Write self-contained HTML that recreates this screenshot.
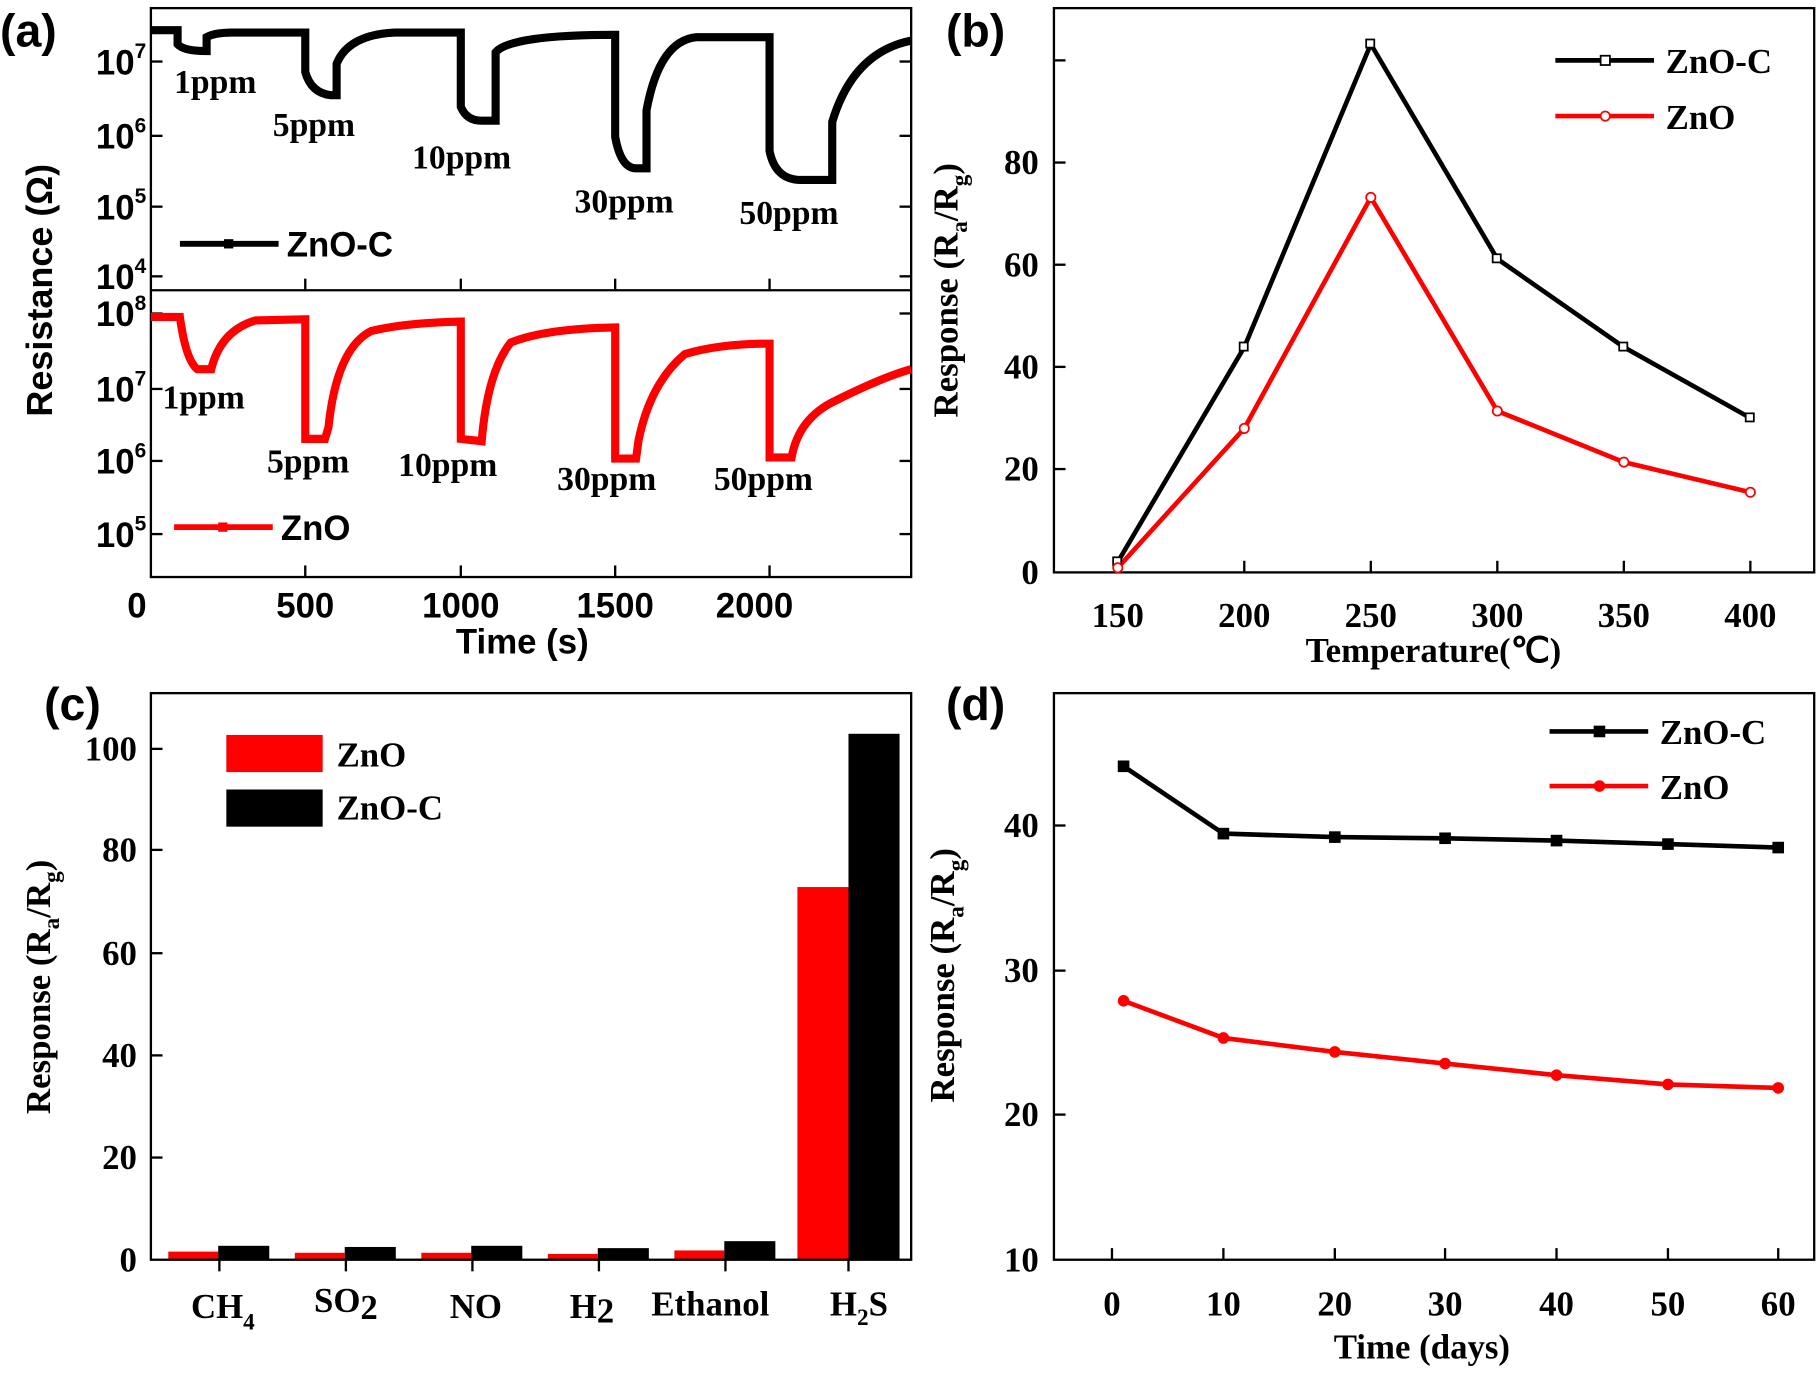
<!DOCTYPE html>
<html><head><meta charset="utf-8"><style>
html,body{margin:0;padding:0;background:#fff}
svg{display:block}
.s{font-family:"Liberation Sans",sans-serif;font-weight:bold}
.r{font-family:"Liberation Serif",serif;font-weight:bold}
</style></head><body>
<svg width="1820" height="1377" viewBox="0 0 1568 1186" preserveAspectRatio="none" xmlns="http://www.w3.org/2000/svg">
<!-- Panel a -->
<g fill="none" stroke="#000" stroke-width="2">
<rect x="130" y="7" width="655" height="490"/>
<line x1="130" y1="250" x2="785" y2="250"/>
</g>
<g stroke="#000" stroke-width="2">
<line x1="263" y1="497" x2="263" y2="487"/><line x1="397" y1="497" x2="397" y2="487"/><line x1="530" y1="497" x2="530" y2="487"/><line x1="663" y1="497" x2="663" y2="487"/>
<line x1="263" y1="250" x2="263" y2="240"/><line x1="397" y1="250" x2="397" y2="240"/><line x1="530" y1="250" x2="530" y2="240"/><line x1="663" y1="250" x2="663" y2="240"/>
<line x1="130" y1="53" x2="140" y2="53"/><line x1="130" y1="117" x2="140" y2="117"/><line x1="130" y1="178" x2="140" y2="178"/><line x1="130" y1="238" x2="140" y2="238"/>
<line x1="130" y1="270" x2="140" y2="270"/><line x1="130" y1="335" x2="140" y2="335"/><line x1="130" y1="397" x2="140" y2="397"/><line x1="130" y1="460" x2="140" y2="460"/>
<line x1="785" y1="53" x2="775" y2="53"/><line x1="785" y1="117" x2="775" y2="117"/><line x1="785" y1="178" x2="775" y2="178"/><line x1="785" y1="238" x2="775" y2="238"/>
<line x1="785" y1="270" x2="775" y2="270"/><line x1="785" y1="335" x2="775" y2="335"/><line x1="785" y1="397" x2="775" y2="397"/><line x1="785" y1="460" x2="775" y2="460"/>
</g>
<path d="M130,26 L153,26 L153,38 Q158,44 178,44 L178,32 Q185,28 200,28 L263,28 L263,62 Q268,80 285,82 L290,82 L290,55 Q300,30 340,28 L397,28 L397,92 Q402,104 415,104 L427,104 L427,45 Q440,30 530,30 L530,118 Q535,145 548,145 L557,145 L557,95 Q568,35 600,32 L663,32 L663,130 Q668,155 690,155 L717,155 L717,105 Q735,45 785,35" fill="none" stroke="#000" stroke-width="7"/>
<path d="M130,273 L155,273 Q160,310 170,318 L182,318 Q190,285 220,276 L263,275 L263,378 L280,378 L283,368 Q290,300 320,285 Q350,278 397,277 L397,378 L415,380 Q420,320 440,295 Q470,283 530,282 L530,395 L548,395 L550,380 Q560,330 590,305 Q620,296 663,296 L663,394 L682,394 Q688,360 720,345 Q760,325 785,318" fill="none" stroke="#f00" stroke-width="7"/>
<g class="s" font-size="30" text-anchor="end">
<text x="126" y="64">10<tspan font-size="18" dy="-14">7</tspan></text>
<text x="126" y="128">10<tspan font-size="18" dy="-14">6</tspan></text>
<text x="126" y="189">10<tspan font-size="18" dy="-14">5</tspan></text>
<text x="126" y="249">10<tspan font-size="18" dy="-14">4</tspan></text>
<text x="126" y="281">10<tspan font-size="18" dy="-14">8</tspan></text>
<text x="126" y="346">10<tspan font-size="18" dy="-14">7</tspan></text>
<text x="126" y="408">10<tspan font-size="18" dy="-14">6</tspan></text>
<text x="126" y="471">10<tspan font-size="18" dy="-14">5</tspan></text>
</g>
<g class="s" font-size="30" text-anchor="middle">
<text x="118" y="532">0</text><text x="263" y="532">500</text><text x="397" y="532">1000</text><text x="530" y="532">1500</text><text x="650" y="532">2000</text>
<text x="450" y="563">Time (s)</text>
</g>
<text class="s" font-size="31" transform="translate(45,250) rotate(-90)" text-anchor="middle">Resistance (Ω)</text>
<text class="s" font-size="40" x="0" y="40">(a)</text>
<g class="r" font-size="29">
<text x="150" y="80">1ppm</text><text x="235" y="117">5ppm</text><text x="355" y="145">10ppm</text><text x="495" y="183">30ppm</text><text x="637" y="193">50ppm</text>
<text x="140" y="352">1ppm</text><text x="230" y="407">5ppm</text><text x="343" y="410">10ppm</text><text x="480" y="422">30ppm</text><text x="615" y="422">50ppm</text>
</g>
<line x1="155" y1="210" x2="240" y2="210" stroke="#000" stroke-width="5"/><rect x="193" y="206" width="8" height="8" fill="#000"/>
<text class="s" font-size="30" x="247" y="221">ZnO-C</text>
<line x1="150" y1="454" x2="235" y2="454" stroke="#f00" stroke-width="5"/><rect x="188" y="450" width="8" height="8" fill="#f00"/>
<text class="s" font-size="30" x="242" y="465">ZnO</text>

<!-- Panel b -->
<rect x="908" y="7" width="655" height="486" fill="none" stroke="#000" stroke-width="2"/>
<g stroke="#000" stroke-width="2">
<line x1="908" y1="404" x2="918" y2="404"/><line x1="908" y1="316" x2="918" y2="316"/><line x1="908" y1="228" x2="918" y2="228"/><line x1="908" y1="140" x2="918" y2="140"/><line x1="908" y1="52" x2="918" y2="52"/>
<line x1="963" y1="493" x2="963" y2="483"/><line x1="1072" y1="493" x2="1072" y2="483"/><line x1="1181" y1="493" x2="1181" y2="483"/><line x1="1290" y1="493" x2="1290" y2="483"/><line x1="1399" y1="493" x2="1399" y2="483"/><line x1="1508" y1="493" x2="1508" y2="483"/>
</g>
<polyline points="963,484 1072,299 1181,38 1290,223 1399,299 1508,360" fill="none" stroke="#000" stroke-width="4"/>
<polyline points="963,489 1072,369 1181,170 1290,354 1399,398 1508,424" fill="none" stroke="#f00" stroke-width="4"/>
<g fill="#fff" stroke="#000" stroke-width="1.5"><rect x="959" y="480" width="7" height="7"/><rect x="1068" y="295" width="7" height="7"/><rect x="1177" y="34" width="7" height="7"/><rect x="1286" y="219" width="7" height="7"/><rect x="1395" y="295" width="7" height="7"/><rect x="1504" y="356" width="7" height="7"/></g>
<g fill="#fff" stroke="#f00" stroke-width="1.5"><circle cx="963" cy="489" r="4"/><circle cx="1072" cy="369" r="4"/><circle cx="1181" cy="170" r="4"/><circle cx="1290" cy="354" r="4"/><circle cx="1399" cy="398" r="4"/><circle cx="1508" cy="424" r="4"/></g>
<g class="r" font-size="30" text-anchor="end">
<text x="895" y="503">0</text><text x="895" y="414">20</text><text x="895" y="326">40</text><text x="895" y="238">60</text><text x="895" y="150">80</text>
</g>
<g class="r" font-size="30" text-anchor="middle">
<text x="963" y="540">150</text><text x="1072" y="540">200</text><text x="1181" y="540">250</text><text x="1290" y="540">300</text><text x="1399" y="540">350</text><text x="1508" y="540">400</text>
<text x="1235" y="570">Temperature(℃)</text>
</g>
<text class="r" font-size="30" transform="translate(825,250) rotate(-90)" text-anchor="middle">Response (R<tspan font-size="20" dy="8">a</tspan><tspan dy="-8">/R</tspan><tspan font-size="20" dy="8">g</tspan><tspan dy="-8">)</tspan></text>
<text class="s" font-size="40" x="815" y="40">(b)</text>
<line x1="1340" y1="52" x2="1425" y2="52" stroke="#000" stroke-width="4"/><rect x="1379" y="48" width="8" height="8" fill="#fff" stroke="#000" stroke-width="1.5"/>
<text class="r" font-size="30" x="1435" y="63">ZnO-C</text>
<line x1="1340" y1="100" x2="1425" y2="100" stroke="#f00" stroke-width="4"/><circle cx="1383" cy="100" r="4" fill="#fff" stroke="#f00" stroke-width="1.5"/>
<text class="r" font-size="30" x="1435" y="111">ZnO</text>

<!-- Panel c -->
<g fill="#f00">
<rect x="145" y="1078" width="43" height="7"/><rect x="254" y="1079" width="43" height="6"/><rect x="363" y="1079" width="43" height="6"/><rect x="472" y="1080" width="43" height="5"/><rect x="581" y="1077" width="43" height="8"/><rect x="687" y="764" width="44" height="321"/>
</g>
<g fill="#000">
<rect x="188" y="1073" width="44" height="12"/><rect x="297" y="1074" width="44" height="11"/><rect x="406" y="1073" width="44" height="12"/><rect x="515" y="1075" width="44" height="10"/><rect x="624" y="1069" width="44" height="16"/><rect x="731" y="632" width="44" height="453"/>
</g>
<rect x="130" y="597" width="655" height="488" fill="none" stroke="#000" stroke-width="2"/>
<g stroke="#000" stroke-width="2">
<line x1="130" y1="997" x2="140" y2="997"/><line x1="130" y1="909" x2="140" y2="909"/><line x1="130" y1="821" x2="140" y2="821"/><line x1="130" y1="732" x2="140" y2="732"/><line x1="130" y1="645" x2="140" y2="645"/>
<line x1="189" y1="1085" x2="189" y2="1095"/><line x1="298" y1="1085" x2="298" y2="1095"/><line x1="407" y1="1085" x2="407" y2="1095"/><line x1="516" y1="1085" x2="516" y2="1095"/><line x1="625" y1="1085" x2="625" y2="1095"/><line x1="731" y1="1085" x2="731" y2="1095"/>
</g>
<g class="r" font-size="30" text-anchor="end">
<text x="118" y="1095">0</text><text x="118" y="1007">20</text><text x="118" y="919">40</text><text x="118" y="831">60</text><text x="118" y="742">80</text><text x="118" y="655">100</text>
</g>
<g class="r" font-size="30" text-anchor="middle">
<text x="192" y="1135">CH<tspan font-size="20" dy="10">4</tspan></text>
<text x="298" y="1130">SO<tspan dy="6">2</tspan></text>
<text x="410" y="1135">NO</text>
<text x="510" y="1135">H<tspan dy="4">2</tspan></text>
<text x="612" y="1133">Ethanol</text>
<text x="740" y="1133">H<tspan font-size="20" dy="8">2</tspan><tspan dy="-8">S</tspan></text>
</g>
<text class="r" font-size="30" transform="translate(43,850) rotate(-90)" text-anchor="middle">Response (R<tspan font-size="20" dy="8">a</tspan><tspan dy="-8">/R</tspan><tspan font-size="20" dy="8">g</tspan><tspan dy="-8">)</tspan></text>
<text class="s" font-size="40" x="38" y="620">(c)</text>
<rect x="195" y="633" width="83" height="32" fill="#f00"/>
<text class="r" font-size="30" x="290" y="660">ZnO</text>
<rect x="195" y="680" width="83" height="32" fill="#000"/>
<text class="r" font-size="30" x="290" y="706">ZnO-C</text>

<!-- Panel d -->
<rect x="908" y="597" width="655" height="488" fill="none" stroke="#000" stroke-width="2"/>
<g stroke="#000" stroke-width="2">
<line x1="908" y1="960" x2="918" y2="960"/><line x1="908" y1="836" x2="918" y2="836"/><line x1="908" y1="711" x2="918" y2="711"/>
<line x1="958" y1="1085" x2="958" y2="1075"/><line x1="1054" y1="1085" x2="1054" y2="1075"/><line x1="1150" y1="1085" x2="1150" y2="1075"/><line x1="1245" y1="1085" x2="1245" y2="1075"/><line x1="1341" y1="1085" x2="1341" y2="1075"/><line x1="1437" y1="1085" x2="1437" y2="1075"/><line x1="1532" y1="1085" x2="1532" y2="1075"/>
</g>
<polyline points="968,660 1054,718 1150,721 1245,722 1341,724 1437,727 1532,730" fill="none" stroke="#000" stroke-width="4"/>
<g fill="#000"><rect x="963" y="655" width="10" height="10"/><rect x="1049" y="713" width="10" height="10"/><rect x="1145" y="716" width="10" height="10"/><rect x="1240" y="717" width="10" height="10"/><rect x="1336" y="719" width="10" height="10"/><rect x="1432" y="722" width="10" height="10"/><rect x="1527" y="725" width="10" height="10"/></g>
<polyline points="968,862 1054,894 1150,906 1245,916 1341,926 1437,934 1532,937" fill="none" stroke="#f00" stroke-width="4"/>
<g fill="#f00"><circle cx="968" cy="862" r="5"/><circle cx="1054" cy="894" r="5"/><circle cx="1150" cy="906" r="5"/><circle cx="1245" cy="916" r="5"/><circle cx="1341" cy="926" r="5"/><circle cx="1437" cy="934" r="5"/><circle cx="1532" cy="937" r="5"/></g>
<g class="r" font-size="30" text-anchor="end">
<text x="895" y="1095">10</text><text x="895" y="970">20</text><text x="895" y="846">30</text><text x="895" y="721">40</text>
</g>
<g class="r" font-size="30" text-anchor="middle">
<text x="958" y="1133">0</text><text x="1054" y="1133">10</text><text x="1150" y="1133">20</text><text x="1245" y="1133">30</text><text x="1341" y="1133">40</text><text x="1437" y="1133">50</text><text x="1532" y="1133">60</text>
<text x="1225" y="1170">Time (days)</text>
</g>
<text class="r" font-size="30" transform="translate(822,840) rotate(-90)" text-anchor="middle">Response (R<tspan font-size="20" dy="8">a</tspan><tspan dy="-8">/R</tspan><tspan font-size="20" dy="8">g</tspan><tspan dy="-8">)</tspan></text>
<text class="s" font-size="40" x="815" y="620">(d)</text>
<line x1="1335" y1="630" x2="1420" y2="630" stroke="#000" stroke-width="4"/><rect x="1373" y="625" width="10" height="10" fill="#000"/>
<text class="r" font-size="30" x="1430" y="641">ZnO-C</text>
<line x1="1335" y1="677" x2="1420" y2="677" stroke="#f00" stroke-width="4"/><circle cx="1378" cy="677" r="5" fill="#f00"/>
<text class="r" font-size="30" x="1430" y="688">ZnO</text>
</svg>
</body></html>
